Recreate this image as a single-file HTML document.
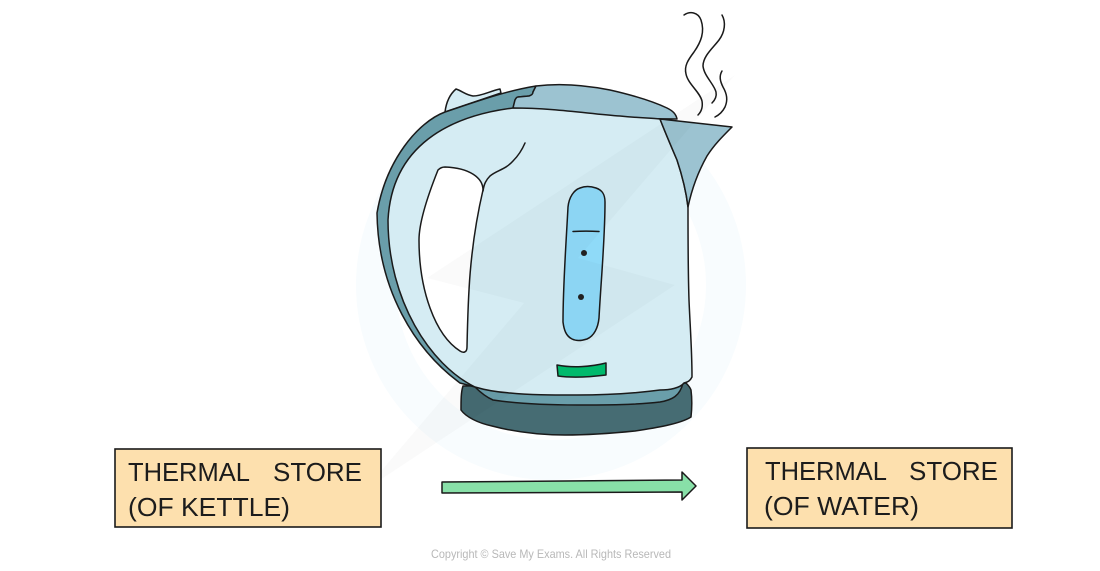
<!DOCTYPE html>
<html><head><meta charset="utf-8"><style>
html,body{margin:0;padding:0;background:#fff;width:1100px;height:571px;overflow:hidden}
svg{display:block}
.k{stroke:#1a1a1a;stroke-width:1.5;stroke-linejoin:round;stroke-linecap:round}
.t{font-family:"Liberation Sans",sans-serif;font-size:26px;fill:#1c1c1c}
</style></head><body>
<svg width="1100" height="571" viewBox="0 0 1100 571" xmlns="http://www.w3.org/2000/svg">
<rect width="1100" height="571" fill="#fff"/>
<circle cx="551" cy="285" r="175" fill="none" stroke="#f8fcfe" stroke-width="40"/>

<!-- steam -->
<g fill="none" class="k">
<path d="M684 15C690 11 698 12 701 20C705 32 701 42 694 52C688 60 684 66 686 74C688 84 700 92 702 101C703 107 701 112 698 115"/>
<path d="M722 15C726 22 725 32 719 40C713 48 703 56 703 66C704 76 714 84 716 92C717 97 714 101 712 103"/>
<path d="M722 71C719 76 720 81 723 87C727 94 728 100 725 107C723 111 719 115 715 117"/>
</g>

<!-- base -->
<path class="k" fill="#466c73" d="M463 386C461 392 461 400 461 410C466 417 478 423 492 426C515 432 540 435 565 435C590 435 615 433 635 431C655 428 680 424 691 417C692 408 692 398 691 390C690 387 688 385 686 383Z"/>

<!-- switch -->
<path class="k" fill="#d5ecf3" d="M445 112C446 104 449 95 456 89C462 91 466 95 473 96C482 96 490 91 500 89L501 93Z"/>

<!-- outer strip -->
<path class="k" fill="#6a9eaa" d="M536 86C505 91 475 102 445 112C418 122 386 160 377 213C378 290 415 350 460 383L475 387C480 392 486 397 493 400C520 404 550 405 577 405C605 405 635 405 660 402C672 400 680 396 683 383L513 108L515 100C516 98 517 97 518 97L529 96C532 95 533 94 533 92Z"/>

<!-- lid -->
<path class="k" fill="#9cc3d1" d="M536 86C560 83 585 85 610 90C632 95 650 100 667 108C673 111 676 114 677 119L600 118L513 108L515 100C516 98 517 97 518 97L529 96C532 95 533 94 533 92Z"/>

<!-- body -->
<path class="k" fill="#d5ecf3" d="M513 108C555 108 590 114 620 116C640 118 650 118 660 119C665 132 671 146 677 160C682 175 686 190 688 207C688 240 688 270 689 300C690 325 692 350 692 377C690 381 688 382 684 383C680 388 670 390 660 390C630 394 600 395 577 395C550 395 530 395 510 393C496 392 485 390 475 387C430 365 388 300 388 220C392 145 450 116 513 108Z"/>

<!-- handle hole -->
<path class="k" fill="#fff" d="M438 170C430 190 419 220 419 240C419 290 435 335 460 351C463 353 467 353 467 347C468 300 469 250 483 190C483 178 470 168 445 167C442 167 440 168 438 170Z"/>
<path class="k" fill="none" d="M483 191C484 184 486 180 490 176C497 170 505 170 513 161C518 156 522 150 525 143"/>

<!-- spout -->
<path class="k" fill="#9cc3d1" d="M660 119L732 127C722 137 714 145 707 156C698 172 692 188 688 207C686 190 682 175 677 160C671 146 665 132 660 119Z"/>

<!-- gauge -->
<path class="k" fill="#8fdaf8" d="M568 207C569 197 574 190 580 188C585 186 590 186 596 188C602 190 605 194 605 202C605 240 601 280 599 318C598 328 594 336 587 339C581 341 576 341 572 339C566 336 564 330 563 322C563 285 566 245 568 207Z"/>
<path class="k" fill="none" d="M573 231.500C582 231 590 231 599 231.500"/>
<circle cx="584" cy="253" r="3" fill="#222"/>
<circle cx="581" cy="297" r="3" fill="#222"/>

<!-- green indicator -->
<path class="k" fill="#00b96c" d="M557 365C572 368 590 367 606 363L606 375C590 377 572 378 558 376Z"/>

<!-- watermark lightning -->
<path d="M735 75L427 278L524 303L365 490L675 285L578 258Z" fill="#000" opacity="0.018"/>

<!-- arrow -->
<path class="k" stroke-width="1.8" fill="#88e0a8" d="M442 482L682 480L682 472L696 486L682 500L682 492L442 493Z"/>

<!-- boxes -->
<rect x="115" y="449" width="266" height="78" fill="#fde0ae" stroke="#1a1a1a" stroke-width="1.6"/>
<text class="t" x="128" y="481" textLength="122" lengthAdjust="spacingAndGlyphs">THERMAL</text>
<text class="t" x="273" y="481" textLength="89" lengthAdjust="spacingAndGlyphs">STORE</text>
<text class="t" x="128" y="516" textLength="162" lengthAdjust="spacingAndGlyphs">(OF KETTLE)</text>

<rect x="747" y="448" width="265" height="80" fill="#fde0ae" stroke="#1a1a1a" stroke-width="1.6"/>
<text class="t" x="765" y="480" textLength="122" lengthAdjust="spacingAndGlyphs">THERMAL</text>
<text class="t" x="909" y="480" textLength="89" lengthAdjust="spacingAndGlyphs">STORE</text>
<text class="t" x="764" y="515" textLength="155" lengthAdjust="spacingAndGlyphs">(OF WATER)</text>

<text x="431" y="558" font-family="Liberation Sans, sans-serif" font-size="12" fill="#b8b8b8" textLength="240" lengthAdjust="spacingAndGlyphs">Copyright © Save My Exams. All Rights Reserved</text>
</svg>
</body></html>
